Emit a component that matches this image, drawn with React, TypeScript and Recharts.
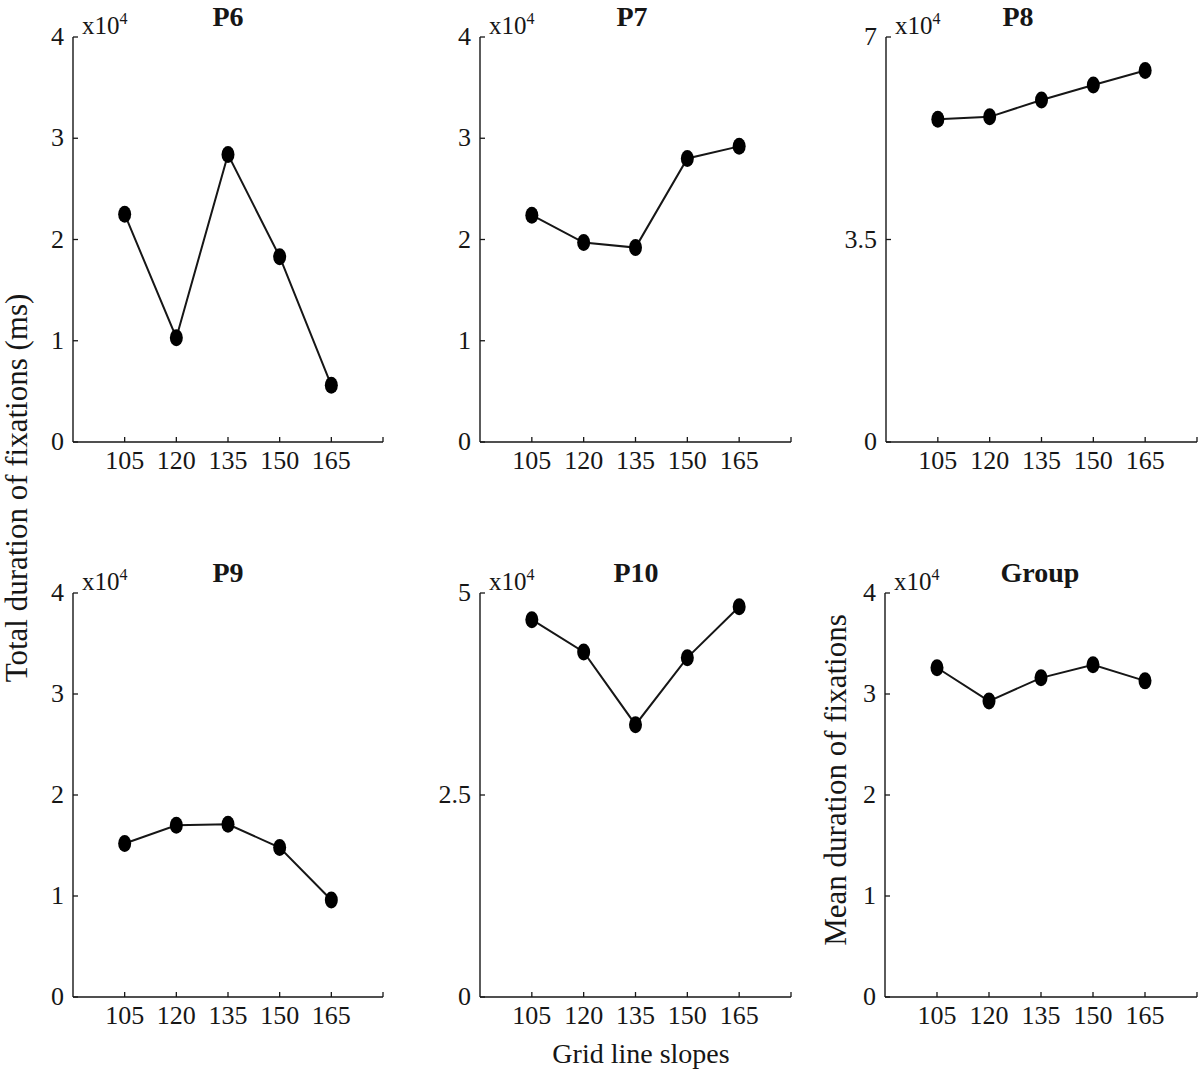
import React from "react"
import { LineChart, Line, XAxis, YAxis } from "recharts"

// grid line slopes (deg) on the x axis, plus the bare end tick at 180
const slopes = [105, 120, 135, 150, 165]
const xTicks = [105, 120, 135, 150, 165, 180]

// values in units of x10^4
const p6 = [2.25, 1.03, 2.84, 1.83, 0.56]
const p7 = [2.24, 1.97, 1.92, 2.8, 2.92]
const p8 = [5.58, 5.62, 5.91, 6.17, 6.42]
const p9 = [1.52, 1.7, 1.71, 1.48, 0.96]
const p10 = [4.67, 4.27, 3.37, 4.2, 4.83]
const group = [3.26, 2.93, 3.16, 3.29, 3.13]

const ticks4 = [0, 1, 2, 3, 4]
const ticks7 = [0, 3.5, 7]
const ticks5 = [0, 2.5, 5]

const FONT = '"Liberation Serif", "Times New Roman", serif'
const INK = "#161616"

function XTick(props: any) {
    const { x, y, payload } = props
    const v = payload.value
    return (
        <g>
            <line x1={x} y1={y} x2={x} y2={y - 5} stroke={INK} strokeWidth={1.3} />
            {v <= 165 && (
                <text x={x} y={y + 27} textAnchor="middle" fontFamily={FONT} fontSize={26} fill={INK}>
                    {v}
                </text>
            )}
        </g>
    )
}

function YTick(props: any) {
    const { x, y, payload } = props
    return (
        <g>
            <line x1={x} y1={y} x2={x + 5} y2={y} stroke={INK} strokeWidth={1.3} />
            <text x={x - 9} y={y + 8} textAnchor="end" fontFamily={FONT} fontSize={26} fill={INK}>
                {payload.value}
            </text>
        </g>
    )
}

const renderDot = (p: any) => (
    <ellipse key={`d-${p.index}`} cx={p.cx} cy={p.cy} rx={6.5} ry={8.5} fill="#000" />
)

type PanelProps = {
    values: number[]
    yMax: number
    yTicks: number[]
    L: number
    T: number
    R: number
    B: number
}

function Panel({ values, yMax, yTicks, L, T, R, B }: PanelProps) {
    const data = slopes.map((s, i) => ({ slope: s, value: values[i] }))
    return (
        <div style={{ position: "absolute", left: L - 60, top: T - 20 }}>
            <LineChart
                width={R - L + 62}
                height={B - T + 60}
                data={data}
                margin={{ top: 20, right: 2, bottom: 0, left: 0 }}
            >
                <XAxis
                    dataKey="slope"
                    type="number"
                    domain={[90, 180]}
                    ticks={xTicks}
                    interval={0}
                    tick={<XTick />}
                    tickLine={false}
                    tickSize={0}
                    tickMargin={0}
                    height={40}
                    axisLine={{ stroke: INK, strokeWidth: 1.4 }}
                    allowDataOverflow
                />
                <YAxis
                    type="number"
                    domain={[0, yMax]}
                    ticks={yTicks}
                    interval={0}
                    tick={<YTick />}
                    tickLine={false}
                    tickSize={0}
                    tickMargin={0}
                    width={60}
                    axisLine={{ stroke: INK, strokeWidth: 1.4 }}
                    allowDataOverflow
                />
                <Line
                    type="linear"
                    dataKey="value"
                    stroke={INK}
                    strokeWidth={2}
                    dot={renderDot}
                    activeDot={false}
                    isAnimationActive={false}
                />
            </LineChart>
        </div>
    )
}

const panels = [
    { title: "P6", values: p6, yMax: 4, yTicks: ticks4, L: 73, T: 37, R: 383, B: 442, tx: 228 },
    { title: "P7", values: p7, yMax: 4, yTicks: ticks4, L: 480, T: 37, R: 791, B: 442, tx: 632 },
    { title: "P8", values: p8, yMax: 7, yTicks: ticks7, L: 886, T: 37, R: 1197, B: 442, tx: 1018 },
    { title: "P9", values: p9, yMax: 4, yTicks: ticks4, L: 73, T: 593, R: 383, B: 997, tx: 228 },
    { title: "P10", values: p10, yMax: 5, yTicks: ticks5, L: 480, T: 593, R: 791, B: 997, tx: 636 },
    { title: "Group", values: group, yMax: 4, yTicks: ticks4, L: 885, T: 593, R: 1197, B: 997, tx: 1040 },
]

export default function App() {
    return (
        <div
            style={{
                position: "absolute",
                left: 0,
                top: 0,
                width: 1200,
                height: 1078,
                background: "#fff",
                overflow: "hidden",
            }}
        >
            {panels.map((p) => (
                <Panel key={p.title} values={p.values} yMax={p.yMax} yTicks={p.yTicks} L={p.L} T={p.T} R={p.R} B={p.B} />
            ))}
            <svg
                width={1200}
                height={1078}
                style={{ position: "absolute", left: 0, top: 0, pointerEvents: "none" }}
            >
                {panels.map((p) => (
                    <g key={p.title}>
                        <text
                            x={p.tx}
                            y={p.T - 11}
                            textAnchor="middle"
                            fontFamily={FONT}
                            fontWeight="bold"
                            fontSize={28}
                            fill={INK}
                        >
                            {p.title}
                        </text>
                        <text x={p.L + 9} y={p.T - 3} fontFamily={FONT} fontSize={25} fill={INK}>
                            x10
                            <tspan dy={-10} fontSize={16}>
                                4
                            </tspan>
                        </text>
                    </g>
                ))}
                <text
                    transform="translate(27 488) rotate(-90)"
                    textAnchor="middle"
                    fontFamily={FONT}
                    fontSize={31}
                    fill={INK}
                >
                    Total duration of fixations (ms)
                </text>
                <text
                    transform="translate(846 780) rotate(-90)"
                    textAnchor="middle"
                    fontFamily={FONT}
                    fontSize={31}
                    fill={INK}
                >
                    Mean duration of fixations
                </text>
                <text x={641} y={1063} textAnchor="middle" fontFamily={FONT} fontSize={28} fill={INK}>
                    Grid line slopes
                </text>
            </svg>
        </div>
    )
}
